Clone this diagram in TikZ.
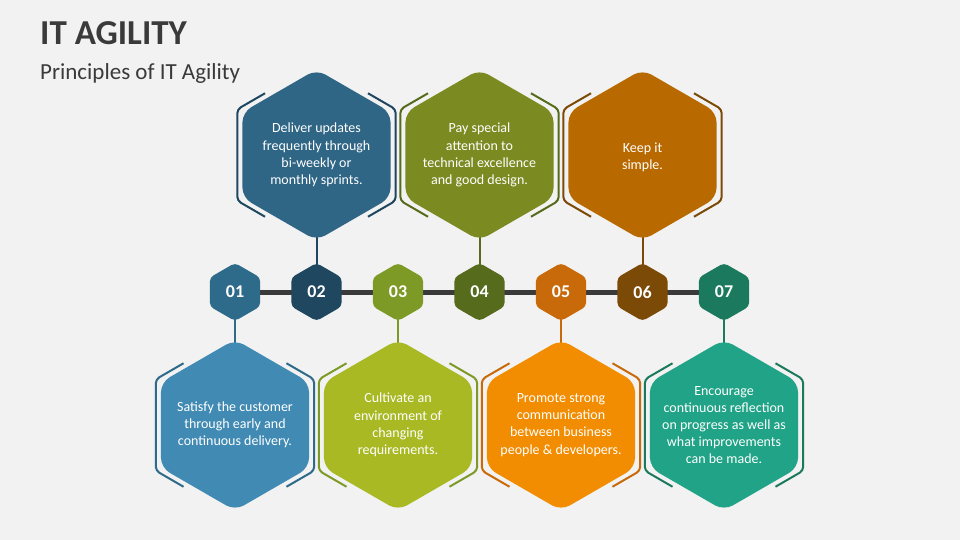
\documentclass[tikz,border=0pt]{standalone}
\usepackage{fontspec}
\setmainfont{Carlito}
\usetikzlibrary{shapes.geometric,calc}
\definecolor{bg}{HTML}{F2F2F2}
\definecolor{ink}{HTML}{3A3A3A}
\definecolor{sA}{HTML}{2E6A8A}\definecolor{bA}{HTML}{418AB3}
\definecolor{sB}{HTML}{1F4760}\definecolor{bB}{HTML}{2F6585}
\definecolor{sC}{HTML}{7E9A26}\definecolor{bC}{HTML}{A8B924}
\definecolor{sD}{HTML}{566B1B}\definecolor{bD}{HTML}{7B8B22}
\definecolor{sE}{HTML}{C86A0A}\definecolor{bE}{HTML}{F28C00}
\definecolor{sF}{HTML}{7B4A06}\definecolor{bF}{HTML}{B86A00}
\definecolor{sG}{HTML}{1B7A5D}\definecolor{bG}{HTML}{20A386}
\tikzset{
 hexs/.style={regular polygon,regular polygon sides=6,shape border rotate=30,minimum size=58pt,inner sep=0pt,rounded corners=4pt},
 hexb/.style={regular polygon,regular polygon sides=6,shape border rotate=30,minimum size=171pt,inner sep=0pt,rounded corners=10pt},
 num/.style={text=white,font=\fontsize{18}{20}\selectfont\bfseries},
 txt/.style={text=white,align=center,font=\fontsize{14}{17.2}\selectfont},
 brk/.style={line width=2pt,rounded corners=4pt},
 conn/.style={line width=2pt}
}
\newcommand{\brackets}[2]{%
 \coordinate (T) at ($(#1)+(0,-91.5)$);
 \coordinate (B) at ($(#1)+(0,91.5)$);
 \coordinate (UL) at ($(#1)+(-79.2,-45.7)$);
 \coordinate (LL) at ($(#1)+(-79.2,45.7)$);
 \coordinate (UR) at ($(#1)+(79.2,-45.7)$);
 \coordinate (LR) at ($(#1)+(79.2,45.7)$);
 \draw[brk,#2] ($(UL)!0.35!(T)$) -- (UL) -- (LL) -- ($(LL)!0.35!(B)$);
 \draw[brk,#2] ($(UR)!0.35!(T)$) -- (UR) -- (LR) -- ($(LR)!0.35!(B)$);
}
\begin{document}
\begin{tikzpicture}[x=1pt,y=-1pt]
\fill[bg] (0,0) rectangle (960,540);
\useasboundingbox (0,0) rectangle (960,540);
\node[anchor=base west,text=ink,font=\fontsize{35}{38}\selectfont\bfseries,inner sep=0] (title) at (40,45) {IT AGILITY};
\node[anchor=base west,text=ink,font=\fontsize{23}{26}\selectfont,inner sep=0] (sub) at (40,80) {Principles of IT Agility};
\foreach \i/\x in {1/235,2/316.5,3/398,4/479.5,5/561,6/642.5,7/724}{\coordinate (c\i) at (\x,292);}
\draw[ink,line width=5pt] (c1) -- (c7);
\coordinate (g1) at (235,425);\coordinate (g3) at (398,425);\coordinate (g5) at (561,425);\coordinate (g7) at (724,425);
\coordinate (g2) at (316.5,155);\coordinate (g4) at (479.5,155);\coordinate (g6) at (642.5,155);
\foreach \i/\s/\b in {1/sA/bA,2/sB/bB,3/sC/bC,4/sD/bD,5/sE/bE,6/sF/bF,7/sG/bG}{
 \draw[conn,\s] (c\i) -- (g\i);
 \brackets{g\i}{\s}
 \node[hexb,fill=\b] (big\i) at (g\i) {};
 \node[hexs,fill=\s] (n\i) at (c\i) {};
 \node[num] at (n\i) {0\i};
}
\node[txt] (t1) at (big1) {Satisfy the customer\\through early and\\continuous delivery.};
\node[txt] (t2) at (big2) {Deliver updates\\frequently through\\bi-weekly or\\monthly sprints.};
\node[txt] (t3) at (big3) {Cultivate an\\environment of\\changing\\requirements.};
\node[txt] (t4) at (big4) {Pay special\\attention to\\technical excellence\\and good design.};
\node[txt] (t5) at (big5) {Promote strong\\communication\\between business\\people \& developers.};
\node[txt] (t6) at ($(big6)+(0,2)$) {Keep it\\simple.};
\node[txt] (t7) at (big7) {Encourage\\continuous reflection\\on progress as well as\\what improvements\\can be made.};
\end{tikzpicture}
\end{document}
